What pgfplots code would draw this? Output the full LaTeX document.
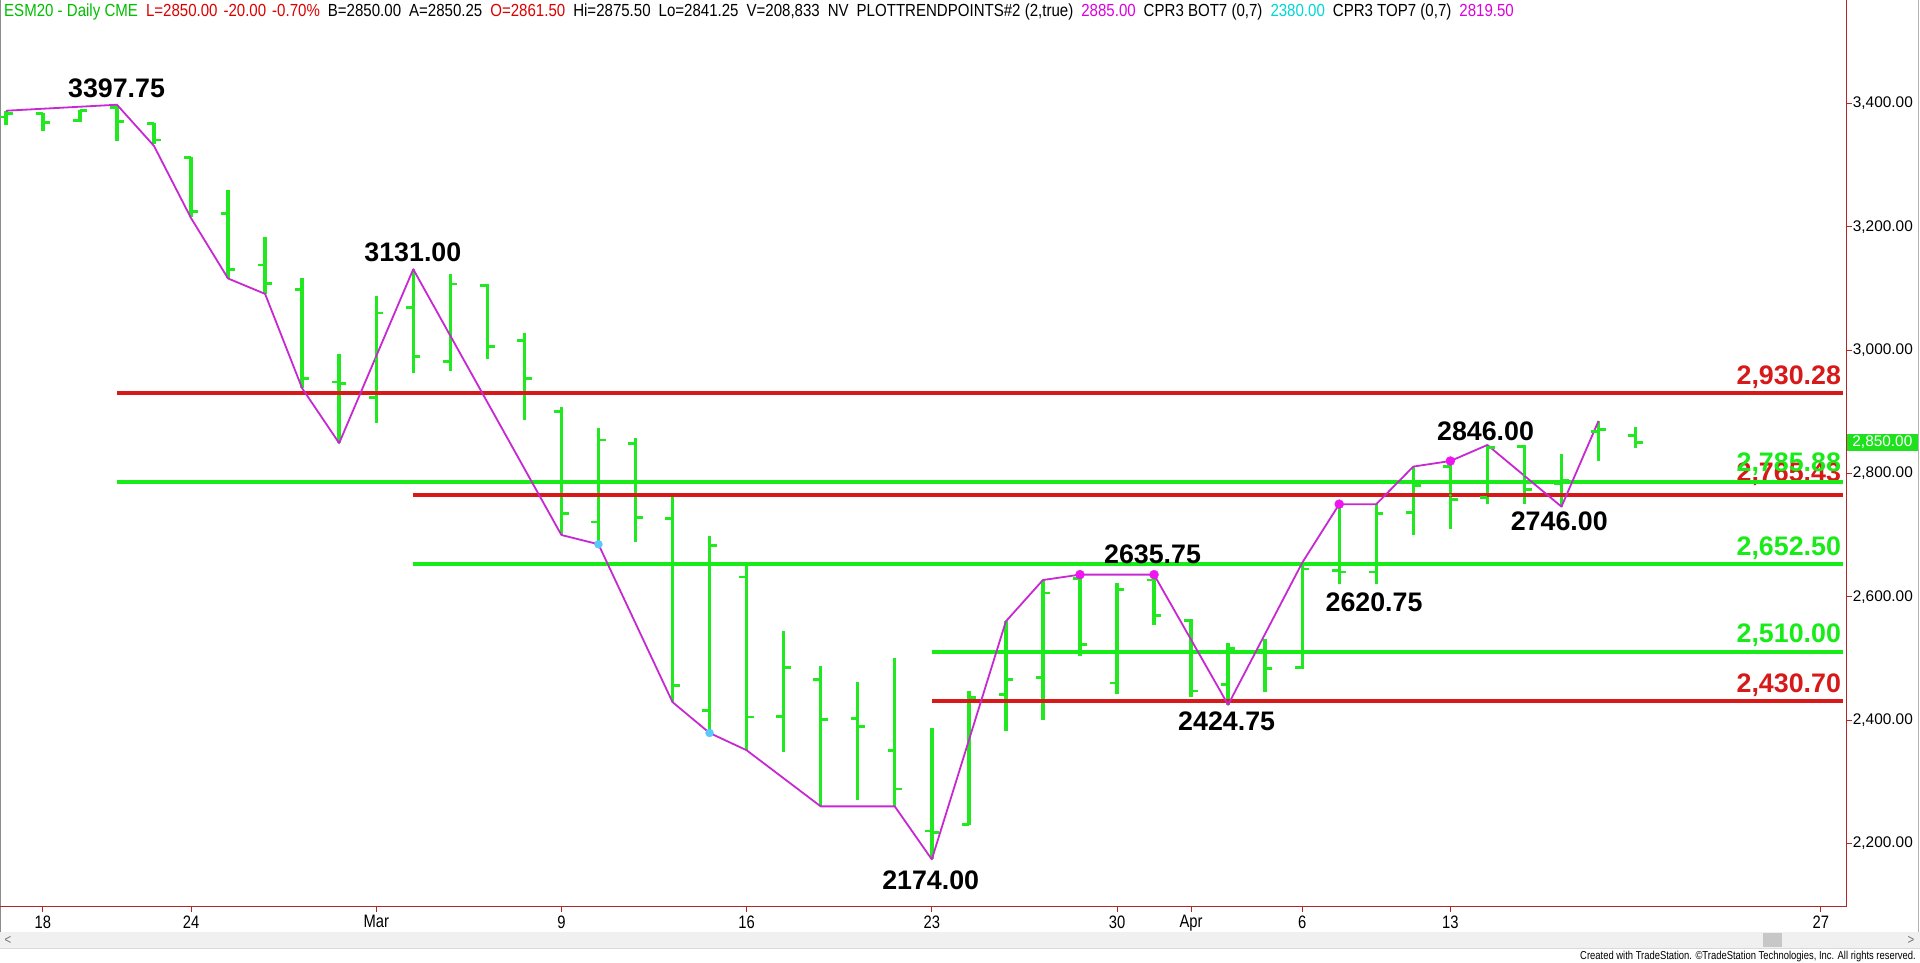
\documentclass[border=0pt]{standalone}
\usepackage{fontspec}
\setmainfont{Liberation Sans}
\newfontfamily\narrow[FakeStretch=0.82]{Liberation Sans}
\newfontfamily\hnarrow[FakeStretch=0.86]{Liberation Sans}
\usepackage{pgfplots}
\pgfplotsset{compat=1.18}
\usepackage{pgfplotstable}

\definecolor{barg}{RGB}{34,232,34}
\definecolor{lvlg}{RGB}{24,236,24}
\definecolor{lvlr}{RGB}{215,25,25}
\definecolor{zig}{RGB}{200,40,210}
\definecolor{dotm}{RGB}{240,20,240}
\definecolor{dotc}{RGB}{90,200,250}
\definecolor{axr}{RGB}{175,40,40}
\definecolor{hgreen}{RGB}{0,190,0}
\definecolor{hred}{RGB}{220,0,0}
\definecolor{hmag}{RGB}{220,0,220}
\definecolor{hcyan}{RGB}{0,215,215}
\definecolor{markg}{RGB}{30,225,30}

\pgfplotstableread{
i o h l c
0 3378 3387 3365 3384
1 3383 3385 3355 3369
2 3372 3390 3369 3388
3 3393 3397.75 3339 3371
4 3367 3368.5 3334 3340.5
5 3312 3313 3216 3225
6 3221 3260 3116 3131
7 3138 3183 3091 3108
8 3098 3116 2938 2954
9 2948 2993 2849 2946
10 2923 3088 2882 3060
11 3069 3131 2963 2990
12 2981 3123 2966 3107
13 3104 3107 2985 3006
14 3016 3028 2886 2954
15 2900 2908 2700 2735
16 2721 2874 2685 2854
17 2849 2858 2689 2729
18 2727 2762 2429 2456
19 2416 2698 2379 2683
20 2632 2654 2351 2405
21 2406 2544 2348 2485
22 2466 2488 2260 2401
23 2402 2462 2270 2389
24 2350 2501 2260 2288
25 2220 2387 2174 2218
26 2231 2447 2229 2437
27 2442 2560 2383 2466
28 2469 2627 2400 2606
29 2630 2635.75 2504 2523
30 2460 2623 2443 2611
31 2627 2635.75 2554 2569
32 2562 2564 2437 2447
33 2458 2525 2424.75 2516
34 2513 2531 2446 2483
35 2485 2655 2483 2645
36 2643 2750 2620.75 2640
37 2640 2750 2620 2735
38 2736 2811 2700 2780
39 2811 2820 2709 2758
40 2761 2846 2750 2842
41 2844 2846 2750 2774
42 2784 2832 2746 2788
43 2868 2885 2819.5 2871
44 2861.5 2875.5 2841.25 2850
}\ohlc

\pgfplotstableread{
i v
0 3388
3 3397.75
4 3331
5 3214
6 3116
7 3091
8 2938
9 2849
11 3131
15 2700
16 2685
18 2429
19 2379
20 2351
22 2260
24 2260
25 2174
27 2560
28 2627
29 2635.75
31 2635.75
33 2424.75
35 2655
36 2750
37 2750
38 2811
39 2820
40 2846
42 2746
43 2885
}\zig

\begin{document}
\begin{tikzpicture}[x=1pt,y=1pt]
\fill[white] (0,0) rectangle (1920,963);
% scroll bar
\fill[black!6] (0,15) rectangle (1920,31);
\draw[black!15] (0,15) -- (1920,15);
\fill[black!22] (1763,16) rectangle (1782,30);
\node[anchor=center, font=\narrow\fontsize{14}{14}\selectfont, text=black!55] at (8,23) {\char`\<};
\node[anchor=center, font=\narrow\fontsize{14}{14}\selectfont, text=black!55] at (1911,23) {\char`\>};
\node[anchor=base east, font=\narrow\fontsize{11.5}{12}\selectfont, inner sep=0pt] at (1916,3) {Created with TradeStation. \textcopyright TradeStation Technologies, Inc. All rights reserved.};
% borders
\draw[black!45, line width=1.2pt] (0.6,31) -- (0.6,963);
\draw[black!30, line width=1pt] (1918.5,31) -- (1918.5,963);

\begin{axis}[
  at={(0pt,56pt)}, anchor=south west,
  width=1846.7pt, height=907pt, scale only axis,
  xmin=-0.157, xmax=49.70, ymin=2096.8, ymax=3567.6,
  axis x line*=bottom, axis y line*=right,
  axis line style={-, draw=axr, line width=1pt},
  xtick={1,5,10,15,20,25,30,32,35,39,49},
  xticklabels={18,24,Mar,9,16,23,30,Apr,6,13,27},
  ytick={2200,2400,2600,2800,3000,3200,3400},
  yticklabels={{2,200.00},{2,400.00},{2,600.00},{2,800.00},{3,000.00},{3,200.00},{3,400.00}},
  tick align=outside, major tick length=5pt,
  tick style={draw=axr, line width=0.8pt},
  xticklabel style={font=\narrow\fontsize{18}{18}\selectfont, text=black},
  yticklabel style={font=\fontsize{15.4}{16}\selectfont, text=black, anchor=west, inner sep=0pt, xshift=1pt},
  clip=false,
]
% high-low bars
\addplot[only marks, mark=*, mark size=1.2pt, forget plot,
  mark options={draw=barg, fill=barg},
  error bars/.cd, y dir=both, y explicit,
  error bar style={line width=3.4pt, draw=barg}, error mark=none]
  table[x=i, y expr={(\thisrow{h}+\thisrow{l})/2}, y error expr={(\thisrow{h}-\thisrow{l})/2}] {\ohlc};
% open ticks
\addplot[only marks, mark=-, mark size=3.6pt, forget plot,
  mark options={xshift=-3.6pt, line width=2.8pt, draw=barg}] table[x=i, y=o] {\ohlc};
% close ticks
\addplot[only marks, mark=-, mark size=3.6pt, forget plot,
  mark options={xshift=3.6pt, line width=2.8pt, draw=barg}] table[x=i, y=c] {\ohlc};

% red label under green
\node[anchor=base east, font=\bfseries\fontsize{26.8}{30}\selectfont, text=lvlr, inner sep=0pt] at (axis cs:49.55,2787.1) {2,765.43};
\node[anchor=base east, font=\bfseries\fontsize{26.8}{30}\selectfont, text=lvlg, inner sep=0pt] at (axis cs:49.55,2802.4) {2,785.88};

% level lines
\addplot[lvlr, line width=4pt] coordinates {(3,2930.28) (49.6,2930.28)};
\addplot[lvlg, line width=4pt] coordinates {(3,2785.88) (49.6,2785.88)};
\addplot[lvlr, line width=4pt] coordinates {(11,2765.43) (49.6,2765.43)};
\addplot[lvlg, line width=4pt] coordinates {(11,2652.5) (49.6,2652.5)};
\addplot[lvlg, line width=4pt] coordinates {(25,2510) (49.6,2510)};
\addplot[lvlr, line width=4pt] coordinates {(25,2430.7) (49.6,2430.7)};

% zigzag
\addplot[zig, line width=1.8pt, line join=round] table[x=i, y=v] {\zig};
\addplot[only marks, mark=*, mark size=4.5pt, mark options={fill=dotm, draw=dotm}] coordinates {(29,2635.75) (31,2635.75) (36,2750) (39,2820)};
\addplot[only marks, mark=*, mark size=4pt, mark options={fill=dotc, draw=dotc}] coordinates {(16,2685) (19,2379)};

% level labels
\node[anchor=base east, font=\bfseries\fontsize{26.8}{30}\selectfont, text=lvlr, inner sep=0pt] at (axis cs:49.55,2943.9) {2,930.28};
\node[anchor=base east, font=\bfseries\fontsize{26.8}{30}\selectfont, text=lvlg, inner sep=0pt] at (axis cs:49.55,2667.1) {2,652.50};
\node[anchor=base east, font=\bfseries\fontsize{26.8}{30}\selectfont, text=lvlg, inner sep=0pt] at (axis cs:49.55,2525) {2,510.00};
\node[anchor=base east, font=\bfseries\fontsize{26.8}{30}\selectfont, text=lvlr, inner sep=0pt] at (axis cs:49.55,2444.9) {2,430.70};

% pivot labels
\tikzset{piv/.style={anchor=base, font=\bfseries\fontsize{26.8}{30}\selectfont, text=black, inner sep=0pt}}
\node[piv] at (axis cs:2.99,3408.8) {3397.75};
\node[piv] at (axis cs:10.99,3143.8) {3131.00};
\node[piv] at (axis cs:24.97,2125.0) {2174.00};
\node[piv] at (axis cs:30.96,2653.6) {2635.75};
\node[piv] at (axis cs:32.96,2383.4) {2424.75};
\node[piv] at (axis cs:36.94,2575.8) {2620.75};
\node[piv] at (axis cs:39.95,2853.4) {2846.00};
\node[piv] at (axis cs:41.94,2707.4) {2746.00};

% last price marker
\node[anchor=west, fill=markg, text=white, minimum height=17.7pt, minimum width=71pt, inner sep=0pt, font=\fontsize{15.4}{16}\selectfont] at (axis cs:49.70,2850) {2,850.00};
\end{axis}

% header
\newcommand{\hg}{\hspace{8pt}}
\node[anchor=base west, inner sep=0pt, font=\hnarrow\fontsize{17.5}{17.5}\selectfont] at (4,946) {%
\textcolor{hgreen}{ESM20 - Daily CME}\hg
\textcolor{hred}{L=2850.00\hspace{6pt}-20.00\hspace{6pt}-0.70\%}\hg
B=2850.00\hg A=2850.25\hg
\textcolor{hred}{O=2861.50}\hg
Hi=2875.50\hg Lo=2841.25\hg V=208,833\hg NV\hg PLOTTRENDPOINTS\#2 (2,true)\hg
\textcolor{hmag}{2885.00}\hg CPR3 BOT7 (0,7)\hg
\textcolor{hcyan}{2380.00}\hg CPR3 TOP7 (0,7)\hg
\textcolor{hmag}{2819.50}};

\pgfresetboundingbox
\path (0,0) rectangle (1920,963);
\end{tikzpicture}
\end{document}
